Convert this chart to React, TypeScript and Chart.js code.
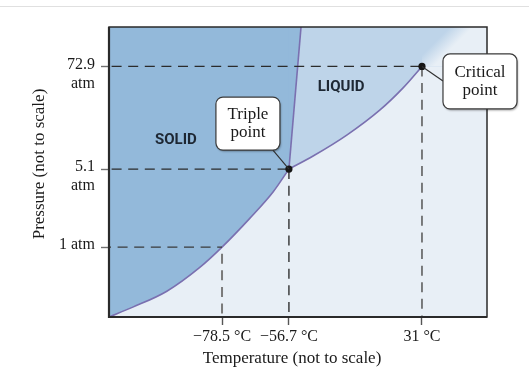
import { useEffect, useRef } from 'react';
import { Chart, registerables } from 'chart.js';

Chart.register(...registerables);

// ---- Data (schematic units, "not to scale": 0–100 on both axes) ----
const T_MAX = 100;
const P_MAX = 100;

const tempTickPos = [29.9, 47.6, 82.8];
const tempTickLabels = ['\u221278.5 \u00b0C', '\u221256.7 \u00b0C', '31 \u00b0C'];

const pressTickPos = [24.1, 51.0, 86.4];
const pressTickLabels = [['1 atm', ''], ['5.1', 'atm'], ['72.9', 'atm']];

// solid–gas (sublimation) curve
const sublimationT = [0, 6.3, 15.3, 24.1, 29.9, 37.3, 43.4, 47.6];
const sublimationP = [0, 3.4, 8.9, 17.2, 24.1, 34.1, 43.1, 51.0];

// liquid–gas (vaporization) curve
const vaporT = [47.6, 54.0, 63.0, 71.7, 77.8, 82.8];
const vaporP = [51.0, 55.5, 62.8, 71.4, 79.0, 86.4];

// solid–liquid (fusion) line
const fusionT = [47.6, 50.8];
const fusionP = [51.0, 100];

const triplePoint = [47.6, 51.0];
const criticalPoint = [82.8, 86.4];

const regionNames = ['SOLID', 'LIQUID'];
const calloutTexts = [['Triple', 'point'], ['Critical', 'point']];
const xTitle = 'Temperature (not to scale)';
const yTitle = 'Pressure (not to scale)';

// ---- Styles ----
const GAS = '#e8eff6';
const LIQ = '#bed4e9';
const SOL = '#93b9da';
const CURVE = '#7a70b0';
const NONE = 'rgba(0,0,0,0)';
const SERIF = "'Liberation Serif', 'Times New Roman', serif";

const pts = (xs: number[], ys: number[]) => xs.map((x, i) => ({ x, y: ys[i] }));
const pt = (p: number[]) => ({ x: p[0], y: p[1] });

function roundRect(ctx: CanvasRenderingContext2D, x: number, y: number, w: number, h: number, r: number) {
  ctx.beginPath();
  ctx.moveTo(x + r, y);
  ctx.arcTo(x + w, y, x + w, y + h, r);
  ctx.arcTo(x + w, y + h, x, y + h, r);
  ctx.arcTo(x, y + h, x, y, r);
  ctx.arcTo(x, y, x + w, y, r);
  ctx.closePath();
}

function callout(
  ctx: CanvasRenderingContext2D,
  px: number, py: number,
  bx: number, by: number, bw: number, bh: number,
  lx: number, ly: number,
  lines: string[]
) {
  ctx.save();
  ctx.strokeStyle = '#2e2e2e';
  ctx.lineWidth = 1.1;
  ctx.beginPath();
  ctx.moveTo(lx, ly);
  ctx.lineTo(px, py);
  ctx.stroke();
  ctx.shadowColor = 'rgba(0,0,0,0.35)';
  ctx.shadowBlur = 2;
  ctx.shadowOffsetX = 1;
  ctx.shadowOffsetY = 1.5;
  roundRect(ctx, bx, by, bw, bh, 7);
  ctx.fillStyle = '#ffffff';
  ctx.fill();
  ctx.shadowColor = 'transparent';
  ctx.lineWidth = 1.2;
  ctx.strokeStyle = '#3a3a3a';
  ctx.stroke();
  ctx.fillStyle = '#1a1a1a';
  ctx.font = `17px ${SERIF}`;
  ctx.textAlign = 'center';
  ctx.textBaseline = 'middle';
  const cy = by + bh / 2;
  ctx.fillText(lines[0], bx + bw / 2, cy - 9);
  ctx.fillText(lines[1], bx + bw / 2, cy + 9);
  ctx.restore();
}

const decor = {
  id: 'phaseDecor',
  beforeDraw(chart: any) {
    const { ctx, chartArea: a } = chart;
    ctx.save();
    ctx.fillStyle = GAS;
    ctx.fillRect(a.left, a.top, a.right - a.left, a.bottom - a.top);
    ctx.restore();
  },
  afterDatasetsDraw(chart: any) {
    const { ctx, chartArea: a, scales } = chart;
    const xs = scales.x;
    const ys = scales.y;
    // frame
    ctx.save();
    ctx.strokeStyle = '#2a2a2a';
    ctx.lineWidth = 1.5;
    ctx.strokeRect(a.left, a.top, a.right - a.left, a.bottom - a.top);
    ctx.lineWidth = 2.2;
    ctx.beginPath();
    ctx.moveTo(a.left, a.top);
    ctx.lineTo(a.left, a.bottom);
    ctx.lineTo(a.right, a.bottom);
    ctx.stroke();
    ctx.restore();

    // region labels
    ctx.save();
    ctx.font = "bold 15px Roboto, 'Liberation Sans', sans-serif";
    ctx.fillStyle = '#1d2733';
    ctx.textAlign = 'center';
    ctx.textBaseline = 'middle';
    ctx.fillText(regionNames[0], xs.getPixelForValue(17.7), ys.getPixelForValue(61.0));
    ctx.fillText(regionNames[1], xs.getPixelForValue(61.4), ys.getPixelForValue(79.3));
    ctx.restore();

    // callouts
    const tx = xs.getPixelForValue(triplePoint[0]);
    const ty = ys.getPixelForValue(triplePoint[1]);
    callout(ctx, tx, ty, tx - 73, ty - 72, 64, 53, tx - 16, ty - 19, calloutTexts[0]);
    const cx = xs.getPixelForValue(criticalPoint[0]);
    const cy = ys.getPixelForValue(criticalPoint[1]);
    callout(ctx, cx, cy, cx + 21, cy - 12.5, 74, 55, cx + 21, cy + 14.5, calloutTexts[1]);

    // axis titles
    ctx.save();
    ctx.fillStyle = '#1a1a1a';
    ctx.font = `17px ${SERIF}`;
    ctx.textAlign = 'center';
    ctx.textBaseline = 'middle';
    ctx.fillText(xTitle, a.left + 183, a.bottom + 42);
    ctx.translate(40, a.top + 137);
    ctx.rotate(-Math.PI / 2);
    ctx.fillText(yTitle, 0, 0);
    ctx.restore();
  },
};

const dash = (data: any[], color: string, width: number, offset: number, order: number) => ({
  data,
  borderColor: color,
  borderWidth: width,
  borderDash: [10, 6.6],
  borderDashOffset: offset,
  pointRadius: 0,
  fill: false,
  tension: 0,
  order,
});

export default function App() {
  const ref = useRef<HTMLCanvasElement | null>(null);

  useEffect(() => {
    if (!ref.current) return;
    const subl = pts(sublimationT, sublimationP);
    const vap = pts(vaporT, vaporP);
    const crit = pt(criticalPoint);
    const trip = pt(triplePoint);
    const fusionTop = { x: fusionT[1], y: fusionP[1] };

    const overlay = (c: any) => {
      const chart = c.chart;
      if (!chart.chartArea) return GAS;
      const px = chart.scales.x.getPixelForValue(criticalPoint[0]);
      const py = chart.scales.y.getPixelForValue(criticalPoint[1]);
      const k = Math.SQRT1_2;
      const g = chart.ctx.createLinearGradient(px - 8 * k, py - 8 * k, px + 8 * k, py + 8 * k);
      g.addColorStop(0, 'rgba(232,239,246,0)');
      g.addColorStop(1, 'rgba(232,239,246,1)');
      return g;
    };

    const chart = new Chart(ref.current, {
      type: 'line',
      data: {
        datasets: [
          {
            data: [trip, crit],
            showLine: false,
            pointRadius: 3.6,
            pointBackgroundColor: '#151515',
            pointBorderWidth: 0,
            order: 0,
          } as any,
          dash([{ x: 0, y: pressTickPos[2] }, crit], '#2b2b2b', 1.3, 14, 1),
          dash([{ x: 0, y: pressTickPos[1] }, trip], '#2b2b2b', 1.3, 14, 1),
          dash([{ x: 0, y: pressTickPos[0] }, { x: tempTickPos[0], y: pressTickPos[0] }], '#3a3a3a', 1.3, 8, 1),
          dash([trip, { x: tempTickPos[1], y: 0 }], '#222222', 1.3, 0, 1),
          dash([crit, { x: tempTickPos[2], y: 0 }], '#555555', 1.5, 0, 1),
          dash([{ x: tempTickPos[0], y: pressTickPos[0] }, { x: tempTickPos[0], y: 0 }], '#7a7a7a', 2, 10, 1),
          {
            data: pts(fusionT, fusionP),
            borderColor: CURVE,
            borderWidth: 1.6,
            pointRadius: 0,
            fill: false,
            tension: 0,
            order: 2,
          },
          {
            data: subl,
            borderColor: CURVE,
            borderWidth: 1.6,
            pointRadius: 0,
            cubicInterpolationMode: 'monotone',
            fill: 'end',
            backgroundColor: SOL,
            order: 3,
          },
          {
            data: [subl[subl.length - 2], trip, fusionTop],
            borderColor: NONE,
            borderWidth: 0,
            pointRadius: 0,
            tension: 0,
            fill: 'end',
            backgroundColor: SOL,
            order: 4,
          },
          {
            data: vap,
            borderColor: CURVE,
            borderWidth: 1.6,
            pointRadius: 0,
            cubicInterpolationMode: 'monotone',
            fill: 'end',
            backgroundColor: LIQ,
            order: 5,
          },
          {
            data: [crit, { x: T_MAX, y: criticalPoint[1] }],
            borderColor: NONE,
            borderWidth: 0,
            pointRadius: 0,
            tension: 0,
            fill: 'end',
            backgroundColor: overlay,
            order: 6,
          },
          {
            data: [vap[vap.length - 2], crit, { x: T_MAX, y: criticalPoint[1] }],
            borderColor: NONE,
            borderWidth: 0,
            pointRadius: 0,
            tension: 0,
            fill: 'end',
            backgroundColor: LIQ,
            order: 7,
          },
        ] as any,
      },
      options: {
        responsive: false,
        animation: false,
        events: [],
        layout: { padding: { top: 27, right: 42, left: 0, bottom: 0 } },
        plugins: { legend: { display: false }, tooltip: { enabled: false } },
        scales: {
          x: {
            type: 'linear',
            position: 'bottom',
            min: 0,
            max: T_MAX,
            afterBuildTicks: (s: any) => {
              s.ticks = tempTickPos.map((v) => ({ value: v }));
            },
            afterFit: (s: any) => {
              s.height = 65;
            },
            ticks: {
              autoSkip: false,
              maxRotation: 0,
              minRotation: 0,
              padding: 2,
              color: '#1a1a1a',
              font: { family: SERIF, size: 16 },
              callback: (_v: any, i: number) => tempTickLabels[i],
            },
            grid: { drawOnChartArea: false, drawTicks: true, tickLength: 8, tickColor: '#555555', tickWidth: 1.4 },
            border: { display: false },
          },
          y: {
            type: 'linear',
            position: 'left',
            min: 0,
            max: P_MAX,
            afterBuildTicks: (s: any) => {
              s.ticks = pressTickPos.map((v) => ({ value: v }));
            },
            afterFit: (s: any) => {
              s.width = 109;
            },
            ticks: {
              autoSkip: false,
              padding: 6,
              labelOffset: 7.5,
              color: '#1a1a1a',
              font: { family: SERIF, size: 16 },
              callback: (_v: any, i: number) => pressTickLabels[i],
            },
            grid: { drawOnChartArea: false, drawTicks: true, tickLength: 8, tickColor: '#707070', tickWidth: 1.4 },
            border: { display: false },
          },
        },
      } as any,
      plugins: [decor],
    });
    return () => chart.destroy();
  }, []);

  return (
    <div style={{ position: 'absolute', left: 0, top: 0, width: 529, height: 382, background: '#ffffff' }}>
      <div style={{ position: 'absolute', left: 0, top: 6, width: 529, height: 1, background: '#e0e0e0' }} />
      <canvas ref={ref} width={529} height={382} style={{ position: 'absolute', left: 0, top: 0 }} />
    </div>
  );
}
